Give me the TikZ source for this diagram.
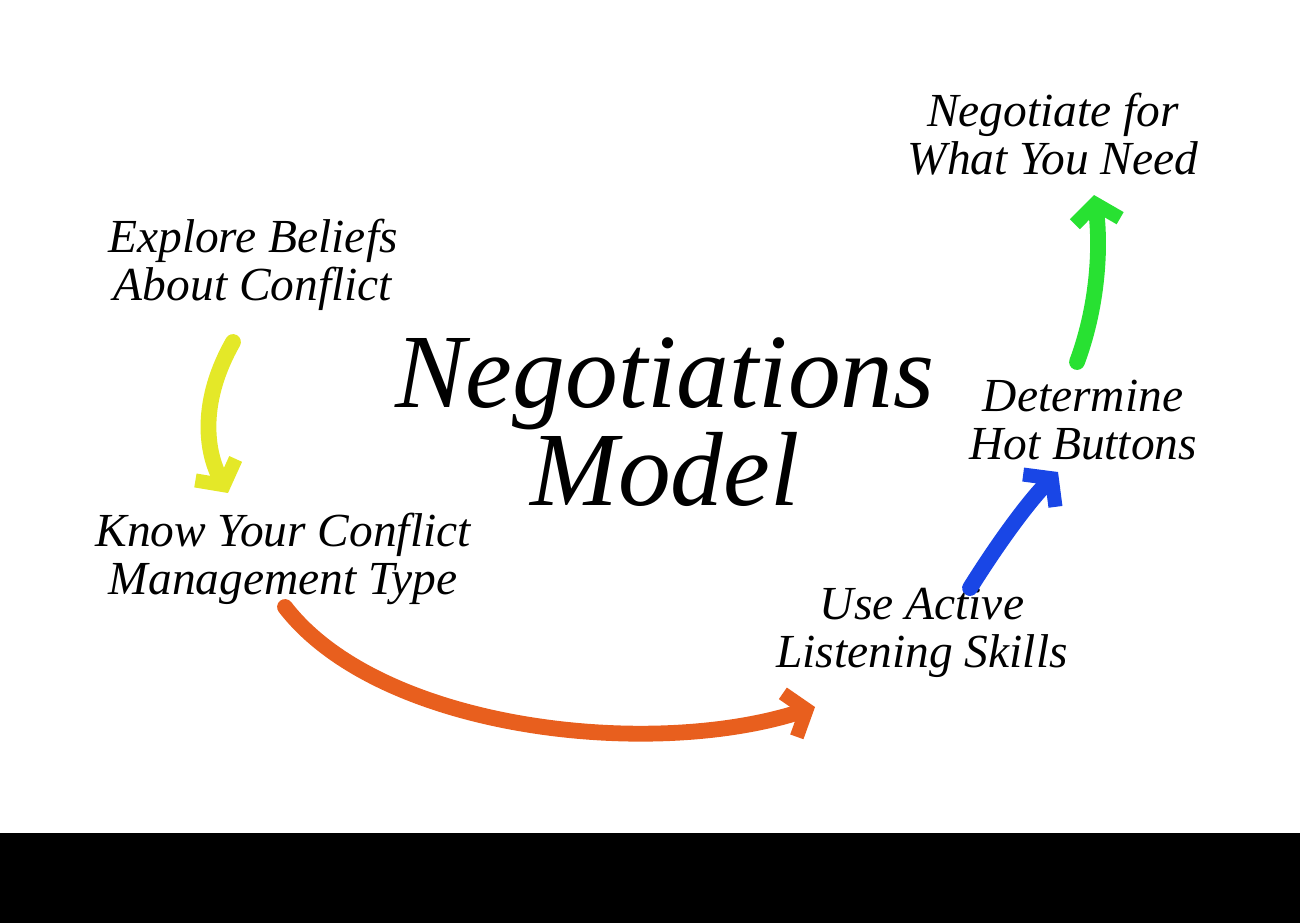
\documentclass[tikz,border=0pt]{standalone}
\usepackage{fontspec}
\setmainfont{Liberation Serif}
\usetikzlibrary{arrows.meta,positioning}
\definecolor{stepyellow}{RGB}{228,232,40}
\definecolor{steporange}{RGB}{232,95,30}
\definecolor{stepblue}{RGB}{25,70,230}
\definecolor{stepgreen}{RGB}{40,225,50}
\begin{document}
\begin{tikzpicture}[x=0.02cm,y=-0.02cm,
    steplabel/.style={align=center, font=\fontsize{27}{27}\selectfont\itshape},
    flow/.style={line width=9pt, line cap=round, -{Straight Barb[length=10pt,width=26pt,line width=8pt]}}]
    \useasboundingbox (0,0) rectangle (1300,923);
    \fill[black] (0,833) rectangle (1300,923);
    \node[align=center, font=\fontsize{60}{56}\selectfont\itshape] (title) at (665,422) {Negotiations\\Model};
    \node[steplabel] (explore) at (253,265) {Explore Beliefs\\About Conflict};
    \node[steplabel] (know) at (283,559) {Know Your Conflict\\Management Type};
    \node[steplabel] (listen) at (922,633) {Use Active\\Listening Skills};
    \node[steplabel] (hot) at (1083,420) {Determine\\Hot Buttons};
    \node[steplabel] (need) at (1053,134) {Negotiate for\\What You Need};
    % step arrows
    \draw[flow, stepyellow] (233,342) .. controls (200,400) and (205,450) .. (228,493);
    \draw[flow, steporange] (285,607) .. controls (380,730) and (650,760) .. (815,707);
    \draw[flow, stepblue] (970,588) .. controls (1000,540) and (1030,500) .. (1058,472);
    \draw[flow, stepgreen] (1077,362) .. controls (1100,300) and (1100,240) .. (1094,195);
\end{tikzpicture}
\end{document}
